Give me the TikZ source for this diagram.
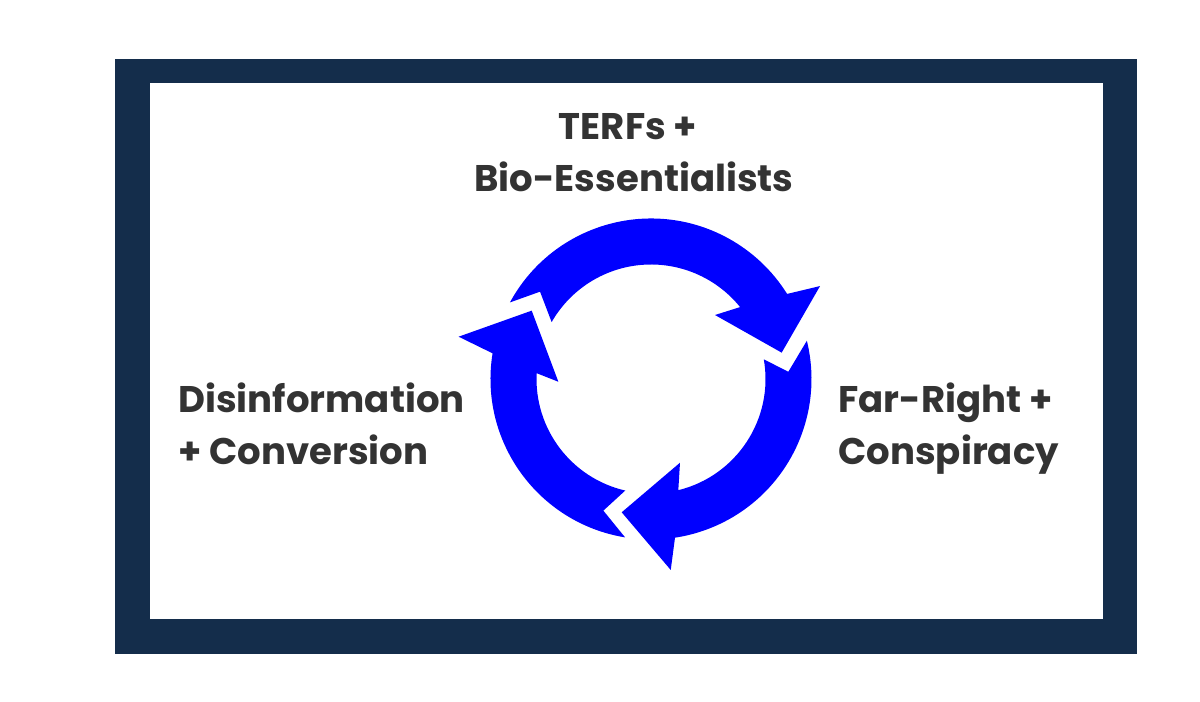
\documentclass[tikz,border=0pt]{standalone}
\usepackage{fontspec}
\setmainfont{Poppins}
\usepackage{tikz}
\definecolor{framenavy}{HTML}{142D4B}
\definecolor{labelgray}{HTML}{333333}
\definecolor{cycleblue}{HTML}{0000FF}
\tikzset{cyclearrow/.style={fill=cycleblue},
         labeltext/.style={text=labelgray,inner sep=0pt,
                           font=\fontsize{21.1}{29.6}\selectfont\bfseries}}

\begin{document}
\begin{tikzpicture}[x=0.02cm,y=0.02cm]
\useasboundingbox (0,0) rectangle (1200,702);
% frame
\fill[framenavy] (115,47.7) rectangle (1136.7,642.7);
\fill[white] (150,82.7) rectangle (1102.7,619.3);

\coordinate (hub) at (651,323);

\begin{scope}[shift={(hub)}]
% top arrow
\fill[cyclearrow] (151.5:160.5) arc[start angle=151.5,end angle=32,radius=160.5]
  -- (28.8:192.9) -- (11.4:133.3) -- (45:90.5) -- (38.9:114.5)
  arc[start angle=38.9,end angle=150.2,radius=114.5] -- (141.8:141.2) -- cycle;
% right arrow
\fill[cyclearrow] (13.8:160.5) arc[start angle=13.8,end angle=-81.4,radius=160.5]
  -- (-84.1:192) -- (-102.4:136.5) -- (-70.9:88.6) -- (-76.2:114.5)
  arc[start angle=-76.2,end angle=9.9,radius=114.5] -- (3.0:137.5) -- cycle;
% left arrow
\fill[cyclearrow] (260.7:160.5) arc[start angle=260.7,end angle=170.8,radius=160.5]
  -- (167.6:197) -- (150.2:137.5) -- (181.7:92.7) -- (177.1:114.5)
  arc[start angle=177.1,end angle=257,radius=114.5] -- (250.1:140) -- cycle;
\end{scope}

% labels (base = last line)
\node[labeltext,anchor=base,align=center] (terfs) at (634,510) {TERFs +\kern0.32em\\Bio-Essentialists};
\node[labeltext,anchor=base west,align=left] (disinfo) at (178,237) {Disinformation\\+ Conversion};
\node[labeltext,anchor=base west,align=left] (farright) at (838,237) {Far-Right +\\Conspiracy};
\end{tikzpicture}
\end{document}
